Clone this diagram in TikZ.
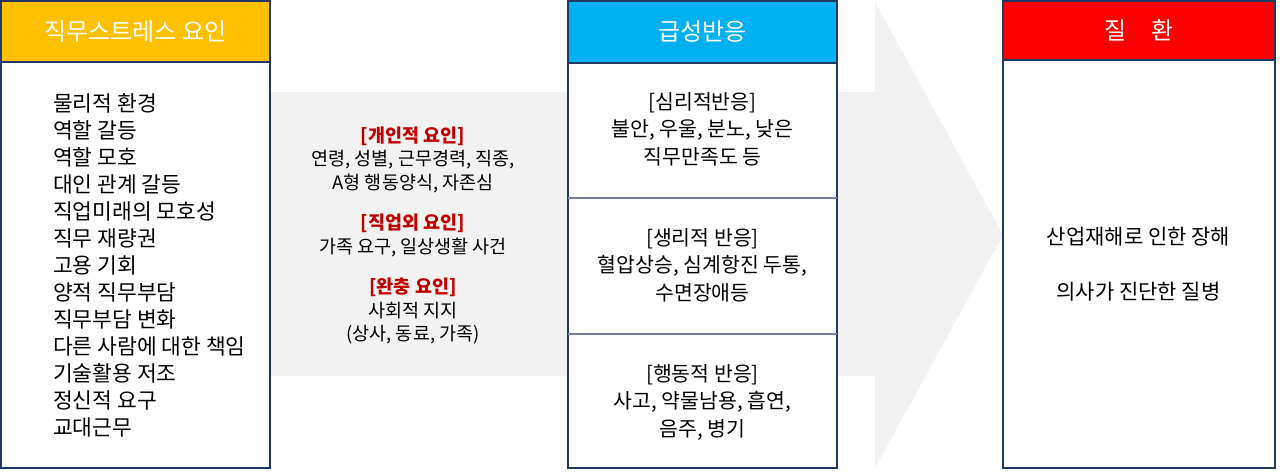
\documentclass[tikz,border=0pt]{standalone}
\usepackage{fontspec}
\setmainfont{Noto Sans CJK KR}
\definecolor{navy}{HTML}{1F3864}
\definecolor{divline}{HTML}{6F819F}
\definecolor{hdyellow}{HTML}{FFC000}
\definecolor{hdcyan}{HTML}{00B0F0}
\definecolor{hdred}{HTML}{FF0000}
\definecolor{arrowgray}{HTML}{F2F2F2}
\definecolor{labelred}{HTML}{C00000}
\begin{document}
\begin{tikzpicture}[x=1pt,y=-1pt,
  frame/.style={draw=navy, line width=1.3pt, fill=white, inner sep=0pt, outer sep=0pt, anchor=north west},
  divider/.style={draw=divline, line width=1.3pt},
  hdr/.style={draw=navy, line width=1.3pt, inner sep=0pt, outer sep=0pt, anchor=north west, text=white, font=\fontsize{24}{28}\selectfont},
  bodytext/.style={inner sep=0pt, font=\fontsize{20.5}{27.5}\selectfont, align=center, text=black},
  righttext/.style={inner sep=0pt, font=\fontsize{21}{27.5}\selectfont, align=center, text=black},
  listtext/.style={inner sep=0pt, font=\fontsize{21.5}{27}\selectfont, align=left, text=black, anchor=west},
  graytext/.style={inner sep=0pt, font=\fontsize{18.5}{23.5}\selectfont, align=center, text=black}
]
\useasboundingbox (0,0) rectangle (1280,475);
% big gray arrow
\fill[arrowgray] (260,92) -- (875,92) -- (875,2) -- (1003,235) -- (875,468) -- (875,376) -- (260,376) -- cycle;

% left column
\node[frame, minimum width=269pt, minimum height=467pt] (stressbox) at (1,1) {};
\node[hdr, fill=hdyellow, minimum width=269pt, minimum height=61pt] (stresshd) at (1,1) {직무스트레스 요인};
\node[listtext] (stresslist) at (53,265) {물리적 환경\\역할 갈등\\역할 모호\\대인 관계 갈등\\직업미래의 모호성\\직무 재량권\\고용 기회\\양적 직무부담\\직무부담 변화\\다른 사람에 대한 책임\\기술활용 저조\\정신적 요구\\교대근무};

% moderating factors on the arrow
\node[graytext] (personal) at (413,159.5) {{\bfseries\color{labelred}[개인적 요인]}\\연령, 성별, 근무경력, 직종,\\A형 행동양식, 자존심};
\node[graytext] (nonwork) at (413,235.5) {{\bfseries\color{labelred}[직업외 요인]}\\가족 요구, 일상생활 사건};
\node[graytext] (buffer) at (413,311.5) {{\bfseries\color{labelred}[완충 요인]}\\사회적 지지\\(상사, 동료, 가족)};

% middle column
\node[frame, minimum width=269pt, minimum height=467pt] (acutebox) at (568,1) {};
\node[hdr, fill=hdcyan, minimum width=269pt, minimum height=62pt] (acutehd) at (568,1) {급성반응};
\coordinate (d1l) at (568,198);
\coordinate (d1r) at (837,198);
\coordinate (d2l) at (568,334);
\coordinate (d2r) at (837,334);
\draw[divider] (d1l) -- (d1r);
\draw[divider] (d2l) -- (d2r);
\node[bodytext] (psych) at (702.5,129) {[심리적반응]\\불안, 우울, 분노, 낮은\\직무만족도 등};
\node[bodytext] (physio) at (702.5,265) {[생리적 반응]\\혈압상승, 심계항진 두통,\\수면장애등};
\node[bodytext] (behav) at (702.5,402) {[행동적 반응]\\사고, 약물남용, 흡연,\\음주, 병기};

% right column
\node[frame, minimum width=272pt, minimum height=467pt] (diseasebox) at (1003,1) {};
\node[hdr, fill=hdred, minimum width=272pt, minimum height=59pt] (diseasehd) at (1003,1) {질\hspace{24pt}환};
\node[righttext] (injury) at (1138.5,237) {산업재해로 인한 장해};
\node[righttext] (illness) at (1138.5,292) {의사가 진단한 질병};
\end{tikzpicture}
\end{document}
